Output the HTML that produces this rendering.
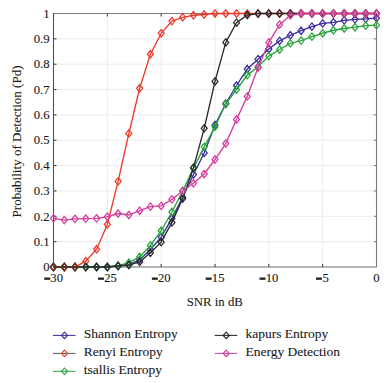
<!DOCTYPE html>
<html><head><meta charset="utf-8"><style>
html,body{margin:0;padding:0;background:#fff;width:391px;height:383px;overflow:hidden}
svg{display:block}
</style></head><body>
<svg width="391" height="383" viewBox="0 0 391 383">
<path d="M107.33 13.5V267.0M161.17 13.5V267.0M215.00 13.5V267.0M268.83 13.5V267.0M322.67 13.5V267.0M53.5 241.65H376.5M53.5 216.30H376.5M53.5 190.95H376.5M53.5 165.60H376.5M53.5 140.25H376.5M53.5 114.90H376.5M53.5 89.55H376.5M53.5 64.20H376.5M53.5 38.85H376.5" stroke="#ebebeb" stroke-width="1" fill="none"/>
<path d="M107.33 267.0v-3M107.33 13.5v3M161.17 267.0v-3M161.17 13.5v3M215.00 267.0v-3M215.00 13.5v3M268.83 267.0v-3M268.83 13.5v3M322.67 267.0v-3M322.67 13.5v3M53.5 241.65h3M53.5 216.30h3M53.5 190.95h3M53.5 165.60h3M53.5 140.25h3M53.5 114.90h3M53.5 89.55h3M53.5 64.20h3M53.5 38.85h3" stroke="#333" stroke-width="1" fill="none"/>
<path d="M376.5 241.65h-2.5M376.5 216.30h-2.5M376.5 190.95h-2.5M376.5 165.60h-2.5M376.5 140.25h-2.5M376.5 114.90h-2.5M376.5 89.55h-2.5M376.5 64.20h-2.5M376.5 38.85h-2.5" stroke="#777" stroke-width="1" fill="none"/>
<path d="M53.5 13.5H376.5" stroke="#7a7a7a" stroke-width="1.1"/>
<path d="M376.5 13.5V267.0" stroke="#777" stroke-width="1.1"/>
<path d="M53.5 267.0H376.5" stroke="#6a6a6a" stroke-width="1.1"/>
<path d="M53.5 12.95V267.55" stroke="#505050" stroke-width="1.1"/>
<polyline points="53.50,267.00 64.27,267.00 75.03,267.00 85.80,267.00 96.57,267.00 107.33,267.00 118.10,265.73 128.87,264.46 139.63,259.90 150.40,249.51 161.17,237.09 171.93,218.33 182.70,197.29 193.47,174.47 204.23,152.93 215.00,125.04 225.77,103.49 236.53,85.49 247.30,69.02 258.07,59.13 268.83,48.99 279.60,40.88 290.37,35.30 301.13,30.74 311.90,26.68 322.67,23.39 333.43,22.37 344.20,20.34 354.97,19.33 365.73,18.82 376.50,18.06" fill="none" stroke="#3d2c9c" stroke-width="1.35"/>
<path d="M53.50 263.30L56.50 267.00L53.50 270.70L50.50 267.00ZM64.27 263.30L67.27 267.00L64.27 270.70L61.27 267.00ZM75.03 263.30L78.03 267.00L75.03 270.70L72.03 267.00ZM85.80 263.30L88.80 267.00L85.80 270.70L82.80 267.00ZM96.57 263.30L99.57 267.00L96.57 270.70L93.57 267.00ZM107.33 263.30L110.33 267.00L107.33 270.70L104.33 267.00ZM118.10 262.03L121.10 265.73L118.10 269.43L115.10 265.73ZM128.87 260.76L131.87 264.46L128.87 268.16L125.87 264.46ZM139.63 256.20L142.63 259.90L139.63 263.60L136.63 259.90ZM150.40 245.81L153.40 249.51L150.40 253.21L147.40 249.51ZM161.17 233.39L164.17 237.09L161.17 240.79L158.17 237.09ZM171.93 214.63L174.93 218.33L171.93 222.03L168.93 218.33ZM182.70 193.59L185.70 197.29L182.70 200.99L179.70 197.29ZM193.47 170.77L196.47 174.47L193.47 178.17L190.47 174.47ZM204.23 149.23L207.23 152.93L204.23 156.62L201.23 152.93ZM215.00 121.34L218.00 125.04L215.00 128.74L212.00 125.04ZM225.77 99.79L228.77 103.49L225.77 107.19L222.77 103.49ZM236.53 81.79L239.53 85.49L236.53 89.19L233.53 85.49ZM247.30 65.32L250.30 69.02L247.30 72.72L244.30 69.02ZM258.07 55.43L261.07 59.13L258.07 62.83L255.07 59.13ZM268.83 45.29L271.83 48.99L268.83 52.69L265.83 48.99ZM279.60 37.18L282.60 40.88L279.60 44.58L276.60 40.88ZM290.37 31.60L293.37 35.30L290.37 39.00L287.37 35.30ZM301.13 27.04L304.13 30.74L301.13 34.44L298.13 30.74ZM311.90 22.98L314.90 26.68L311.90 30.38L308.90 26.68ZM322.67 19.69L325.67 23.39L322.67 27.09L319.67 23.39ZM333.43 18.67L336.43 22.37L333.43 26.07L330.43 22.37ZM344.20 16.64L347.20 20.34L344.20 24.04L341.20 20.34ZM354.97 15.63L357.97 19.33L354.97 23.03L351.97 19.33ZM365.73 15.12L368.73 18.82L365.73 22.52L362.73 18.82ZM376.50 14.36L379.50 18.06L376.50 21.76L373.50 18.06Z" fill="none" stroke="#3d2c9c" stroke-width="1.25"/>
<polyline points="53.50,267.00 64.27,267.00 75.03,267.00 85.80,261.17 96.57,249.25 107.33,224.41 118.10,181.32 128.87,133.41 139.63,88.28 150.40,54.31 161.17,33.27 171.93,21.11 182.70,17.30 193.47,15.27 204.23,14.51 215.00,13.50 225.77,13.50 236.53,13.50 247.30,13.50 258.07,13.50 268.83,13.50 279.60,13.50 290.37,13.50 301.13,13.50 311.90,13.50 322.67,13.50 333.43,13.50 344.20,13.50 354.97,13.50 365.73,13.50 376.50,13.50" fill="none" stroke="#ee3a2a" stroke-width="1.35"/>
<path d="M53.50 263.30L56.50 267.00L53.50 270.70L50.50 267.00ZM64.27 263.30L67.27 267.00L64.27 270.70L61.27 267.00ZM75.03 263.30L78.03 267.00L75.03 270.70L72.03 267.00ZM85.80 257.47L88.80 261.17L85.80 264.87L82.80 261.17ZM96.57 245.56L99.57 249.25L96.57 252.95L93.57 249.25ZM107.33 220.71L110.33 224.41L107.33 228.11L104.33 224.41ZM118.10 177.62L121.10 181.32L118.10 185.02L115.10 181.32ZM128.87 129.71L131.87 133.41L128.87 137.11L125.87 133.41ZM139.63 84.58L142.63 88.28L139.63 91.98L136.63 88.28ZM150.40 50.61L153.40 54.31L150.40 58.01L147.40 54.31ZM161.17 29.57L164.17 33.27L161.17 36.97L158.17 33.27ZM171.93 17.41L174.93 21.11L171.93 24.81L168.93 21.11ZM182.70 13.60L185.70 17.30L182.70 21.00L179.70 17.30ZM193.47 11.57L196.47 15.27L193.47 18.97L190.47 15.27ZM204.23 10.81L207.23 14.51L204.23 18.21L201.23 14.51ZM215.00 9.80L218.00 13.50L215.00 17.20L212.00 13.50ZM225.77 9.80L228.77 13.50L225.77 17.20L222.77 13.50ZM236.53 9.80L239.53 13.50L236.53 17.20L233.53 13.50ZM247.30 9.80L250.30 13.50L247.30 17.20L244.30 13.50ZM258.07 9.80L261.07 13.50L258.07 17.20L255.07 13.50ZM268.83 9.80L271.83 13.50L268.83 17.20L265.83 13.50ZM279.60 9.80L282.60 13.50L279.60 17.20L276.60 13.50ZM290.37 9.80L293.37 13.50L290.37 17.20L287.37 13.50ZM301.13 9.80L304.13 13.50L301.13 17.20L298.13 13.50ZM311.90 9.80L314.90 13.50L311.90 17.20L308.90 13.50ZM322.67 9.80L325.67 13.50L322.67 17.20L319.67 13.50ZM333.43 9.80L336.43 13.50L333.43 17.20L330.43 13.50ZM344.20 9.80L347.20 13.50L344.20 17.20L341.20 13.50ZM354.97 9.80L357.97 13.50L354.97 17.20L351.97 13.50ZM365.73 9.80L368.73 13.50L365.73 17.20L362.73 13.50ZM376.50 9.80L379.50 13.50L376.50 17.20L373.50 13.50Z" fill="none" stroke="#ee3a2a" stroke-width="1.25"/>
<polyline points="53.50,267.00 64.27,267.00 75.03,267.00 85.80,267.00 96.57,267.00 107.33,267.00 118.10,265.73 128.87,262.69 139.63,256.86 150.40,245.45 161.17,230.75 171.93,211.99 182.70,190.95 193.47,168.13 204.23,146.84 215.00,126.81 225.77,104.00 236.53,89.55 247.30,75.10 258.07,66.73 268.83,56.09 279.60,49.50 290.37,43.41 301.13,40.62 311.90,36.57 322.67,33.27 333.43,30.23 344.20,28.46 354.97,27.19 365.73,25.67 376.50,25.16" fill="none" stroke="#2ba43c" stroke-width="1.35"/>
<path d="M53.50 263.30L56.50 267.00L53.50 270.70L50.50 267.00ZM64.27 263.30L67.27 267.00L64.27 270.70L61.27 267.00ZM75.03 263.30L78.03 267.00L75.03 270.70L72.03 267.00ZM85.80 263.30L88.80 267.00L85.80 270.70L82.80 267.00ZM96.57 263.30L99.57 267.00L96.57 270.70L93.57 267.00ZM107.33 263.30L110.33 267.00L107.33 270.70L104.33 267.00ZM118.10 262.03L121.10 265.73L118.10 269.43L115.10 265.73ZM128.87 258.99L131.87 262.69L128.87 266.39L125.87 262.69ZM139.63 253.16L142.63 256.86L139.63 260.56L136.63 256.86ZM150.40 241.75L153.40 245.45L150.40 249.15L147.40 245.45ZM161.17 227.05L164.17 230.75L161.17 234.45L158.17 230.75ZM171.93 208.29L174.93 211.99L171.93 215.69L168.93 211.99ZM182.70 187.25L185.70 190.95L182.70 194.65L179.70 190.95ZM193.47 164.44L196.47 168.13L193.47 171.83L190.47 168.13ZM204.23 143.14L207.23 146.84L204.23 150.54L201.23 146.84ZM215.00 123.11L218.00 126.81L215.00 130.51L212.00 126.81ZM225.77 100.30L228.77 104.00L225.77 107.70L222.77 104.00ZM236.53 85.85L239.53 89.55L236.53 93.25L233.53 89.55ZM247.30 71.40L250.30 75.10L247.30 78.80L244.30 75.10ZM258.07 63.03L261.07 66.73L258.07 70.43L255.07 66.73ZM268.83 52.39L271.83 56.09L268.83 59.79L265.83 56.09ZM279.60 45.80L282.60 49.50L279.60 53.20L276.60 49.50ZM290.37 39.71L293.37 43.41L290.37 47.11L287.37 43.41ZM301.13 36.92L304.13 40.62L301.13 44.32L298.13 40.62ZM311.90 32.87L314.90 36.57L311.90 40.27L308.90 36.57ZM322.67 29.57L325.67 33.27L322.67 36.97L319.67 33.27ZM333.43 26.53L336.43 30.23L333.43 33.93L330.43 30.23ZM344.20 24.76L347.20 28.46L344.20 32.16L341.20 28.46ZM354.97 23.49L357.97 27.19L354.97 30.89L351.97 27.19ZM365.73 21.97L368.73 25.67L365.73 29.37L362.73 25.67ZM376.50 21.46L379.50 25.16L376.50 28.86L373.50 25.16Z" fill="none" stroke="#2ba43c" stroke-width="1.25"/>
<polyline points="53.50,267.00 64.27,267.00 75.03,267.00 85.80,267.00 96.57,267.00 107.33,267.00 118.10,265.99 128.87,265.10 139.63,261.93 150.40,252.80 161.17,242.16 171.93,222.38 182.70,198.56 193.47,167.63 204.23,128.34 215.00,81.44 225.77,42.40 236.53,22.63 247.30,15.02 258.07,13.50 268.83,13.50 279.60,13.50 290.37,13.50 301.13,13.50 311.90,13.50 322.67,13.50 333.43,13.50 344.20,13.50 354.97,13.50 365.73,13.50 376.50,13.50" fill="none" stroke="#2a2a2a" stroke-width="1.35"/>
<path d="M53.50 263.30L56.50 267.00L53.50 270.70L50.50 267.00ZM64.27 263.30L67.27 267.00L64.27 270.70L61.27 267.00ZM75.03 263.30L78.03 267.00L75.03 270.70L72.03 267.00ZM85.80 263.30L88.80 267.00L85.80 270.70L82.80 267.00ZM96.57 263.30L99.57 267.00L96.57 270.70L93.57 267.00ZM107.33 263.30L110.33 267.00L107.33 270.70L104.33 267.00ZM118.10 262.29L121.10 265.99L118.10 269.69L115.10 265.99ZM128.87 261.40L131.87 265.10L128.87 268.80L125.87 265.10ZM139.63 258.23L142.63 261.93L139.63 265.63L136.63 261.93ZM150.40 249.10L153.40 252.80L150.40 256.50L147.40 252.80ZM161.17 238.46L164.17 242.16L161.17 245.86L158.17 242.16ZM171.93 218.68L174.93 222.38L171.93 226.08L168.93 222.38ZM182.70 194.86L185.70 198.56L182.70 202.25L179.70 198.56ZM193.47 163.93L196.47 167.63L193.47 171.33L190.47 167.63ZM204.23 124.64L207.23 128.34L204.23 132.04L201.23 128.34ZM215.00 77.74L218.00 81.44L215.00 85.14L212.00 81.44ZM225.77 38.70L228.77 42.40L225.77 46.10L222.77 42.40ZM236.53 18.93L239.53 22.63L236.53 26.33L233.53 22.63ZM247.30 11.32L250.30 15.02L247.30 18.72L244.30 15.02ZM258.07 9.80L261.07 13.50L258.07 17.20L255.07 13.50ZM268.83 9.80L271.83 13.50L268.83 17.20L265.83 13.50ZM279.60 9.80L282.60 13.50L279.60 17.20L276.60 13.50ZM290.37 9.80L293.37 13.50L290.37 17.20L287.37 13.50ZM301.13 9.80L304.13 13.50L301.13 17.20L298.13 13.50ZM311.90 9.80L314.90 13.50L311.90 17.20L308.90 13.50ZM322.67 9.80L325.67 13.50L322.67 17.20L319.67 13.50ZM333.43 9.80L336.43 13.50L333.43 17.20L330.43 13.50ZM344.20 9.80L347.20 13.50L344.20 17.20L341.20 13.50ZM354.97 9.80L357.97 13.50L354.97 17.20L351.97 13.50ZM365.73 9.80L368.73 13.50L365.73 17.20L362.73 13.50ZM376.50 9.80L379.50 13.50L376.50 17.20L373.50 13.50Z" fill="none" stroke="#2a2a2a" stroke-width="1.25"/>
<polyline points="53.50,218.33 64.27,220.10 75.03,218.84 85.80,218.58 96.57,218.33 107.33,216.81 118.10,213.51 128.87,215.03 139.63,210.72 150.40,206.67 161.17,205.91 171.93,199.32 182.70,190.95 193.47,183.34 204.23,173.97 215.00,159.52 225.77,143.55 236.53,119.46 247.30,96.39 258.07,67.50 268.83,42.40 279.60,24.65 290.37,15.27 301.13,13.50 311.90,13.50 322.67,13.50 333.43,13.50 344.20,13.50 354.97,13.50 365.73,13.50 376.50,13.50" fill="none" stroke="#d43c9c" stroke-width="1.35"/>
<path d="M53.50 214.63L56.50 218.33L53.50 222.03L50.50 218.33ZM64.27 216.40L67.27 220.10L64.27 223.80L61.27 220.10ZM75.03 215.14L78.03 218.84L75.03 222.53L72.03 218.84ZM85.80 214.88L88.80 218.58L85.80 222.28L82.80 218.58ZM96.57 214.63L99.57 218.33L96.57 222.03L93.57 218.33ZM107.33 213.11L110.33 216.81L107.33 220.51L104.33 216.81ZM118.10 209.81L121.10 213.51L118.10 217.21L115.10 213.51ZM128.87 211.33L131.87 215.03L128.87 218.73L125.87 215.03ZM139.63 207.02L142.63 210.72L139.63 214.42L136.63 210.72ZM150.40 202.97L153.40 206.67L150.40 210.37L147.40 206.67ZM161.17 202.21L164.17 205.91L161.17 209.61L158.17 205.91ZM171.93 195.62L174.93 199.32L171.93 203.02L168.93 199.32ZM182.70 187.25L185.70 190.95L182.70 194.65L179.70 190.95ZM193.47 179.65L196.47 183.34L193.47 187.04L190.47 183.34ZM204.23 170.27L207.23 173.97L204.23 177.67L201.23 173.97ZM215.00 155.82L218.00 159.52L215.00 163.22L212.00 159.52ZM225.77 139.85L228.77 143.55L225.77 147.25L222.77 143.55ZM236.53 115.76L239.53 119.46L236.53 123.16L233.53 119.46ZM247.30 92.69L250.30 96.39L247.30 100.09L244.30 96.39ZM258.07 63.80L261.07 67.50L258.07 71.20L255.07 67.50ZM268.83 38.70L271.83 42.40L268.83 46.10L265.83 42.40ZM279.60 20.95L282.60 24.65L279.60 28.35L276.60 24.65ZM290.37 11.57L293.37 15.27L290.37 18.97L287.37 15.27ZM301.13 9.80L304.13 13.50L301.13 17.20L298.13 13.50ZM311.90 9.80L314.90 13.50L311.90 17.20L308.90 13.50ZM322.67 9.80L325.67 13.50L322.67 17.20L319.67 13.50ZM333.43 9.80L336.43 13.50L333.43 17.20L330.43 13.50ZM344.20 9.80L347.20 13.50L344.20 17.20L341.20 13.50ZM354.97 9.80L357.97 13.50L354.97 17.20L351.97 13.50ZM365.73 9.80L368.73 13.50L365.73 17.20L362.73 13.50ZM376.50 9.80L379.50 13.50L376.50 17.20L373.50 13.50Z" fill="none" stroke="#d43c9c" stroke-width="1.25"/>
<path d="M53.50 263.30L56.50 267.00L53.50 270.70L50.50 267.00ZM64.27 263.30L67.27 267.00L64.27 270.70L61.27 267.00ZM75.03 263.30L78.03 267.00L75.03 270.70L72.03 267.00Z" fill="none" stroke="#c02818" stroke-width="1.2" opacity="0.55"/>
<g font-family="Liberation Serif" font-size="12.7" fill="#1a1a1a" stroke="#1a1a1a" stroke-width="0.12"><text x="49.5" y="271.20" text-anchor="end">0</text><text x="49.5" y="245.85" text-anchor="end">0.1</text><text x="49.5" y="220.50" text-anchor="end">0.2</text><text x="49.5" y="195.15" text-anchor="end">0.3</text><text x="49.5" y="169.80" text-anchor="end">0.4</text><text x="49.5" y="144.45" text-anchor="end">0.5</text><text x="49.5" y="119.10" text-anchor="end">0.6</text><text x="49.5" y="93.75" text-anchor="end">0.7</text><text x="49.5" y="68.40" text-anchor="end">0.8</text><text x="49.5" y="43.05" text-anchor="end">0.9</text><text x="49.5" y="17.70" text-anchor="end">1</text><text x="56.70" y="282" text-anchor="middle">30</text><rect x="44.30" y="277.6" width="5.8" height="2.2" fill="#222"/><text x="110.53" y="282" text-anchor="middle">25</text><rect x="98.13" y="277.6" width="5.8" height="2.2" fill="#222"/><text x="164.37" y="282" text-anchor="middle">20</text><rect x="151.97" y="277.6" width="5.8" height="2.2" fill="#222"/><text x="218.20" y="282" text-anchor="middle">15</text><rect x="205.80" y="277.6" width="5.8" height="2.2" fill="#222"/><text x="272.03" y="282" text-anchor="middle">10</text><rect x="259.63" y="277.6" width="5.8" height="2.2" fill="#222"/><text x="325.57" y="282" text-anchor="middle">5</text><rect x="316.07" y="277.6" width="5.8" height="2.2" fill="#222"/><text x="376.50" y="282" text-anchor="middle">0</text></g>
<text x="214.8" y="306" text-anchor="middle" font-family="Liberation Serif" font-size="12.8" fill="#1a1a1a" stroke="#1a1a1a" stroke-width="0.1">SNR in dB</text>
<text transform="translate(21.2 141.4) rotate(-90)" text-anchor="middle" font-family="Liberation Serif" font-size="13.07" fill="#1a1a1a" stroke="#1a1a1a" stroke-width="0.1">Probability of Detection (Pd)</text>
<path d="M53.0 335.4H75.5" stroke="#3d2c9c" stroke-width="1"/>
<path d="M64.50 332.10L67.55 335.40L64.50 338.70L61.45 335.40Z" fill="none" stroke="#3d2c9c" stroke-width="1.1"/>
<text x="83.7" y="338.30" font-family="Liberation Serif" font-size="13.5" fill="#1a1a1a" stroke="#1a1a1a" stroke-width="0.1">Shannon Entropy</text>
<path d="M53.0 353.4H75.5" stroke="#555" stroke-width="1"/>
<path d="M64.50 350.10L67.55 353.40L64.50 356.70L61.45 353.40Z" fill="none" stroke="#ee3a2a" stroke-width="1.1"/>
<text x="83.7" y="356.30" font-family="Liberation Serif" font-size="13.5" fill="#1a1a1a" stroke="#1a1a1a" stroke-width="0.1">Renyi Entropy</text>
<path d="M53.0 371.3H75.5" stroke="#2ba43c" stroke-width="1"/>
<path d="M64.50 368.00L67.55 371.30L64.50 374.60L61.45 371.30Z" fill="none" stroke="#2ba43c" stroke-width="1.1"/>
<text x="83.7" y="374.20" font-family="Liberation Serif" font-size="13.5" fill="#1a1a1a" stroke="#1a1a1a" stroke-width="0.1">tsallis Entropy</text>
<path d="M214.7 335.4H237.2" stroke="#222" stroke-width="1"/>
<path d="M226.20 332.10L229.25 335.40L226.20 338.70L223.15 335.40Z" fill="none" stroke="#222" stroke-width="1.1"/>
<text x="245.39999999999998" y="338.30" font-family="Liberation Serif" font-size="13.5" fill="#1a1a1a" stroke="#1a1a1a" stroke-width="0.1">kapurs Entropy</text>
<path d="M214.7 353.4H237.2" stroke="#d43c9c" stroke-width="1"/>
<path d="M226.20 350.10L229.25 353.40L226.20 356.70L223.15 353.40Z" fill="none" stroke="#d43c9c" stroke-width="1.1"/>
<text x="245.39999999999998" y="356.30" font-family="Liberation Serif" font-size="13.5" fill="#1a1a1a" stroke="#1a1a1a" stroke-width="0.1">Energy Detection</text>
</svg>
</body></html>
